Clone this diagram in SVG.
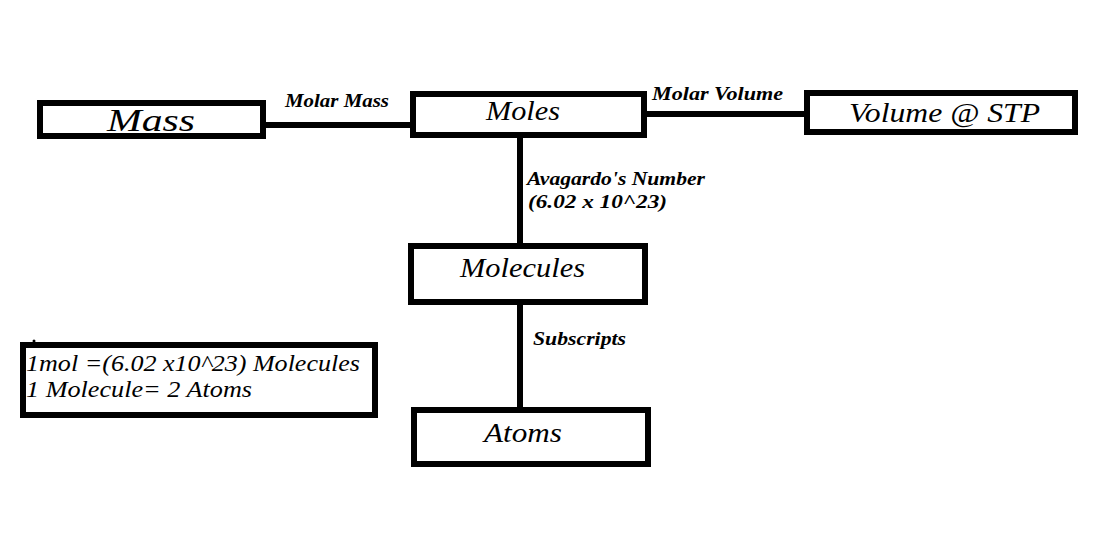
<svg xmlns="http://www.w3.org/2000/svg" width="1115" height="535" viewBox="0 0 1115 535">
<style>
.box{fill:#fff;stroke:#000;stroke-width:6}
.conn{stroke:#000;stroke-width:6;fill:none}
.node{font-family:"Liberation Serif",serif;font-style:italic;font-size:28px;fill:#000}
.lbl{font-family:"Liberation Serif",serif;font-style:italic;font-weight:bold;font-size:18px;fill:#000}
.note{font-family:"Liberation Serif",serif;font-style:italic;font-size:23px;fill:#000}
</style>
<rect width="1115" height="535" fill="#fff"/>
<g id="connectors">
<line class="conn" x1="263" y1="125" x2="413" y2="125"/>
<line class="conn" x1="644" y1="114" x2="807" y2="114"/>
<line class="conn" x1="520" y1="138" x2="520" y2="246"/>
<line class="conn" x1="520" y1="302" x2="520" y2="410"/>
<text class="lbl" x="285" y="107" textLength="104" lengthAdjust="spacingAndGlyphs">Molar Mass</text>
<text class="lbl" x="652" y="100" textLength="131" lengthAdjust="spacingAndGlyphs">Molar Volume</text>
<text class="lbl" x="527" y="185" textLength="178" lengthAdjust="spacingAndGlyphs">Avagardo's Number</text>
<text class="lbl" x="528" y="208" textLength="139" lengthAdjust="spacingAndGlyphs">(6.02 x 10^23)</text>
<text class="lbl" x="533" y="345" textLength="93" lengthAdjust="spacingAndGlyphs">Subscripts</text>
</g>
<g id="mass">
<rect class="box" x="40" y="103" width="223" height="33"/>
<text class="node" x="107" y="131" style="font-size:31px" textLength="88" lengthAdjust="spacingAndGlyphs">Mass</text>
</g>
<g id="moles">
<rect class="box" x="413" y="94" width="231" height="41"/>
<text class="node" x="486" y="120" textLength="74" lengthAdjust="spacingAndGlyphs">Moles</text>
</g>
<g id="volume">
<rect class="box" x="807" y="93" width="268" height="39"/>
<text class="node" x="849" y="122" textLength="191" lengthAdjust="spacingAndGlyphs">Volume @ STP</text>
</g>
<g id="molecules">
<rect class="box" x="411" y="246" width="234" height="56"/>
<text class="node" x="460" y="277" textLength="125" lengthAdjust="spacingAndGlyphs">Molecules</text>
</g>
<g id="atoms">
<rect class="box" x="414" y="410" width="234" height="54"/>
<text class="node" x="484" y="442" textLength="78" lengthAdjust="spacingAndGlyphs">Atoms</text>
</g>
<g id="note">
<rect class="box" x="23" y="345" width="352" height="70"/>
<circle cx="34" cy="341" r="1.5" fill="#000"/>
<text class="note" x="26" y="371" textLength="334" lengthAdjust="spacingAndGlyphs">1mol =(6.02 x10^23) Molecules</text>
<text class="note" x="26" y="397" textLength="226" lengthAdjust="spacingAndGlyphs">1 Molecule= 2 Atoms</text>
</g>
</svg>
